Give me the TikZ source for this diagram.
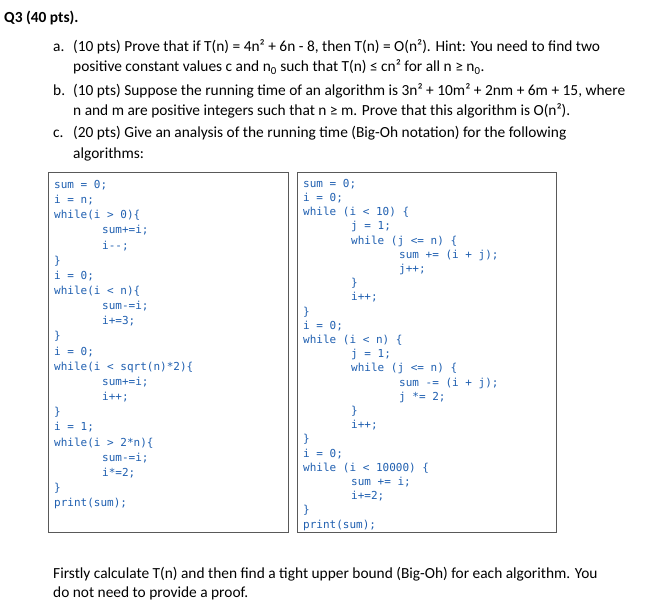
\documentclass[tikz,border=0pt]{standalone}
\usepackage{fontspec}
\setmainfont{Carlito}
\newfontfamily\codefont[Ligatures=NoCommon]{DejaVu Sans Mono}
\definecolor{codeblue}{HTML}{1F5FB0}
\begin{document}
\begin{tikzpicture}[x=1pt,y=-1pt,
  txt/.style={anchor=base west,inner sep=0pt,font=\fontsize{15.4}{18}\selectfont},
  codebox/.style={draw=black!65,line width=1pt},
  code/.style={anchor=north west,inner sep=0pt,align=left,text=codeblue},
]
\useasboundingbox (0,0) rectangle (657,612);
\node[txt,font=\fontsize{15.4}{18}\selectfont\bfseries] (q) at (4,23) {Q3 (40 pts).};
\node[txt] (la) at (53,52) {a.};
\node[txt] (a1) at (73,52) {(10 pts) Prove that if T(n) = 4n² + 6n - 8, then T(n) = O(n²). Hint: You need to find two};
\node[txt] (a2) at (73,72) {positive constant values c and n\textsubscript{0} such that T(n) ≤ cn² for all n ≥ n\textsubscript{0}.};
\node[txt] (lb) at (53,96) {b.};
\node[txt] (b1) at (73,96) {(10 pts) Suppose the running time of an algorithm is 3n² + 10m² + 2nm + 6m + 15, where};
\node[txt] (b2) at (73,116) {n and m are positive integers such that n ≥ m. Prove that this algorithm is O(n²).};
\node[txt] (lc) at (53,138) {c.};
\node[txt] (c1) at (73,138) {(20 pts) Give an analysis of the running time (Big-Oh notation) for the following};
\node[txt] (c2) at (73,159) {algorithms:};
\node[txt] (f1) at (53,579) {Firstly calculate T(n) and then find a tight upper bound (Big-Oh) for each algorithm. You};
\node[txt] (f2) at (53,598) {do not need to provide a proof.};

\draw[codebox] (48,173) rectangle (288,533);
\draw[codebox] (297,173) rectangle (556,533);
\node[code,font=\codefont\fontsize{11}{15.16}\selectfont] (left) at (54,180) {%
sum = 0;\\
i = n;\\
while(i > 0)\{\\
\hspace*{48pt}sum+=i;\\
\hspace*{48pt}i-{}-;\\
\}\\
i = 0;\\
while(i < n)\{\\
\hspace*{48pt}sum-=i;\\
\hspace*{48pt}i+=3;\\
\}\\
i = 0;\\
while(i < sqrt(n)*2)\{\\
\hspace*{48pt}sum+=i;\\
\hspace*{48pt}i++;\\
\}\\
i = 1;\\
while(i > 2*n)\{\\
\hspace*{48pt}sum-=i;\\
\hspace*{48pt}i*=2;\\
\}\\
print(sum);};
\node[code,font=\codefont\fontsize{11}{14.2}\selectfont] (right) at (303,179) {%
sum = 0;\\
i = 0;\\
while (i < 10) \{\\
\hspace*{48pt}j = 1;\\
\hspace*{48pt}while (j <= n) \{\\
\hspace*{96pt}sum += (i + j);\\
\hspace*{96pt}j++;\\
\hspace*{48pt}\}\\
\hspace*{48pt}i++;\\
\}\\
i = 0;\\
while (i < n) \{\\
\hspace*{48pt}j = 1;\\
\hspace*{48pt}while (j <= n) \{\\
\hspace*{96pt}sum -= (i + j);\\
\hspace*{96pt}j *= 2;\\
\hspace*{48pt}\}\\
\hspace*{48pt}i++;\\
\}\\
i = 0;\\
while (i < 10000) \{\\
\hspace*{48pt}sum += i;\\
\hspace*{48pt}i+=2;\\
\}\\
print(sum);};
\end{tikzpicture}
\end{document}
